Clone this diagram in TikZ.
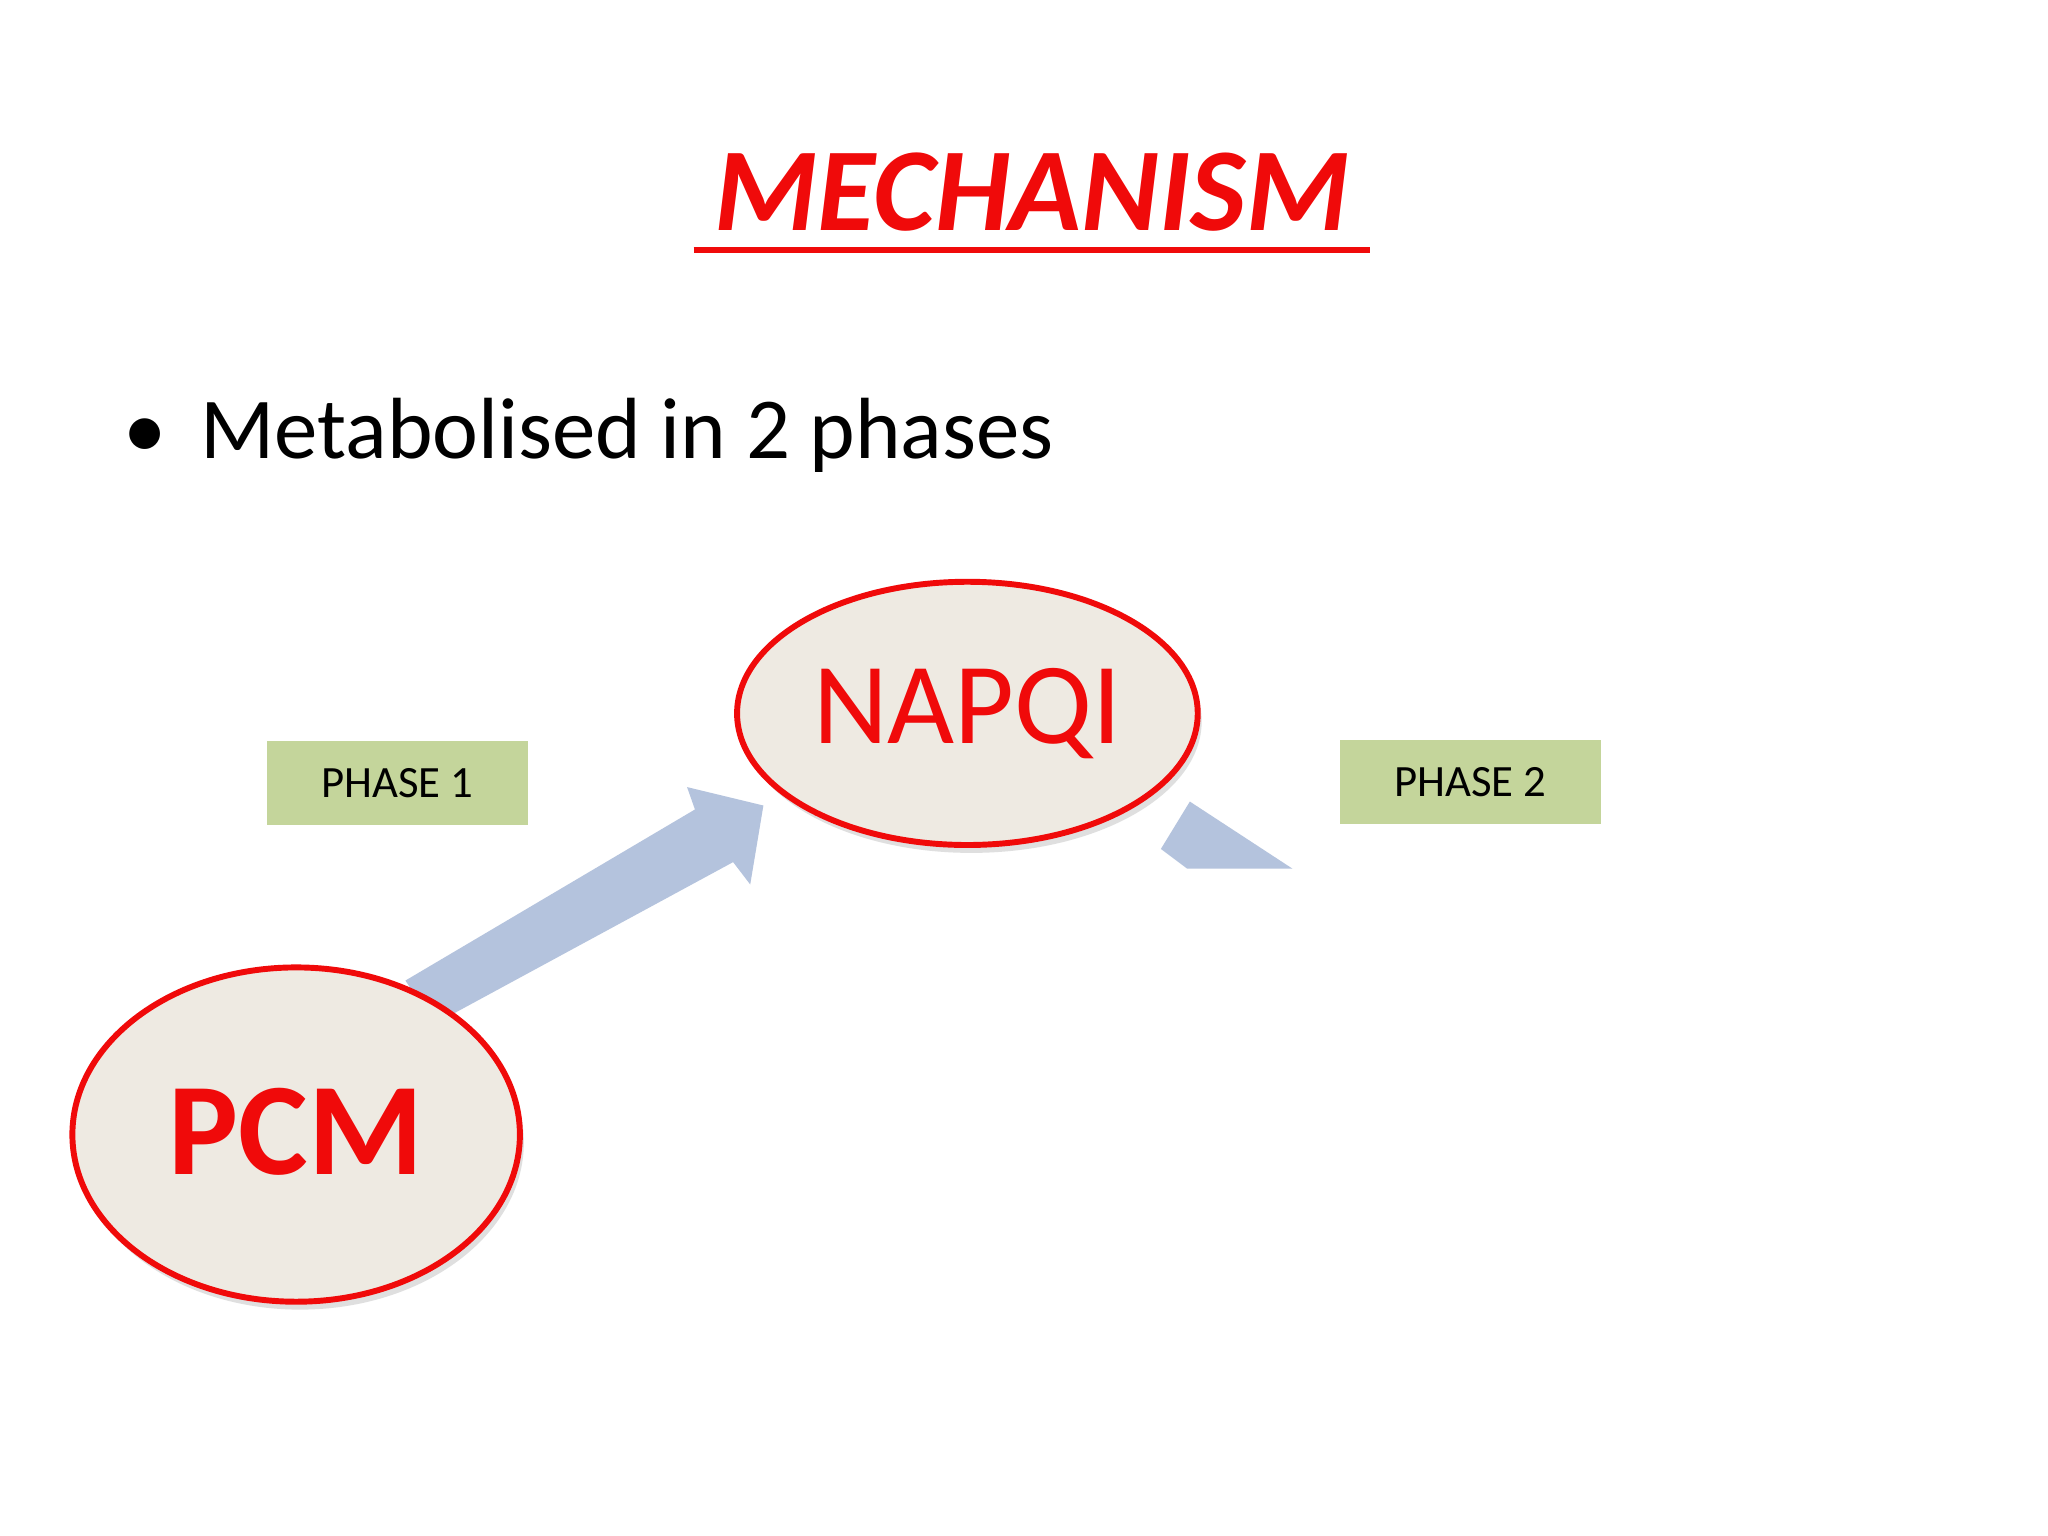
\documentclass[tikz,border=0pt]{standalone}
\usepackage{fontspec}
\setmainfont{Carlito}
\definecolor{tred}{RGB}{240,10,10}
\definecolor{beige}{RGB}{238,234,226}
\definecolor{arr}{RGB}{180,195,221}
\definecolor{grn}{RGB}{196,213,155}
\begin{document}
\begin{tikzpicture}[x=1pt,y=-1pt,
  ell/.style={ellipse,draw=tred,line width=4.5pt,fill=beige,text=tred,inner sep=0pt},
  box/.style={rectangle,fill=grn,minimum width=198pt,minimum height=64pt,inner sep=0pt,font=\fontsize{34}{38}\selectfont}]
\useasboundingbox (0,0) rectangle (1556,1167);
\fill[white] (0,0) rectangle (1556,1167);
\usetikzlibrary{shapes.geometric}
\node[text=tred,font=\fontsize{90}{100}\selectfont\bfseries\itshape] (title) at (784,146) {MECHANISM};
\draw[tred,line width=4pt] (527,190) -- (1041,190);
\node[anchor=base west,font=\fontsize{66}{72}\selectfont] (bul) at (90,348) {\textbullet\hspace{26pt}Metabolised in 2 phases};
% arrows
\fill[arr] (308,745) -- (528,615) -- (522,598) -- (580,612) -- (570,672) -- (557,655) -- (330,778) -- cycle;
\fill[arr] (882,645) -- (904,609) -- (982,660) -- (902,660) -- cycle;
\fill[gray!25] (738,548) ellipse (175 and 100);
\fill[gray!25] (228,868) ellipse (170 and 127);
\draw[ell] (735,542) ellipse (175 and 100);
\node[text=tred,font=\fontsize{88}{96}\selectfont] (napqi) at (735,542) {NAPQI};
\draw[ell] (225,862) ellipse (170 and 127);
\node[text=tred,font=\fontsize{100}{110}\selectfont\bfseries] (pcm) at (225,860) {PCM};
\node[box] (p1) at (302,595) {PHASE 1};
\node[box] (p2) at (1117,594) {PHASE 2};
\end{tikzpicture}
\end{document}
